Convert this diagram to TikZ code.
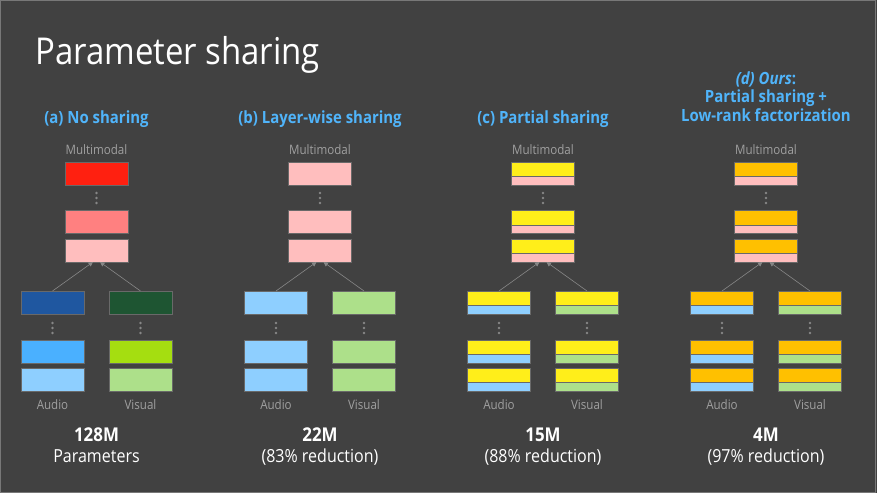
\documentclass[tikz,border=0pt]{standalone}
\usepackage{fontspec}
\setmainfont{Open Sans}[FakeStretch=0.89]
\usetikzlibrary{arrows.meta}
\definecolor{bg}{RGB}{65,65,65}
\definecolor{frame}{RGB}{120,120,120}
\definecolor{boxline}{RGB}{105,105,105}
\definecolor{arrowgray}{RGB}{135,135,135}
\definecolor{labelgray}{RGB}{160,160,160}
\definecolor{accent}{RGB}{80,180,250}
\definecolor{cRed}{RGB}{255,32,16}
\definecolor{cSalmon}{RGB}{255,128,128}
\definecolor{cPink}{RGB}{255,190,190}
\definecolor{cDarkBlue}{RGB}{31,87,160}
\definecolor{cDarkGreen}{RGB}{30,85,50}
\definecolor{cBlue}{RGB}{74,176,255}
\definecolor{cLime}{RGB}{165,222,16}
\definecolor{cLightBlue}{RGB}{142,207,255}
\definecolor{cLightGreen}{RGB}{173,224,138}
\definecolor{cYellow}{RGB}{255,238,26}
\definecolor{cAmber}{RGB}{255,192,0}
\tikzset{
  box/.style={draw=boxline, line width=0.8pt, minimum width=63pt, minimum height=23pt, inner sep=0pt, outer sep=0pt},
  fbox/.style={box, fill=#1},
  sbox/.style 2 args={box, fill=#1, path picture={
      \fill[#2] (path picture bounding box.south west) rectangle ([yshift=8.5pt]path picture bounding box.south east);
      \draw[boxline, line width=0.8pt] ([yshift=8.5pt]path picture bounding box.south west) -- ([yshift=8.5pt]path picture bounding box.south east);}},
  arr/.style={draw=arrowgray, line width=0.6pt, -{Triangle[length=4.5pt,width=4.5pt]}},
  dotmark/.style={fill=arrowgray},
  txt/.style={inner sep=0pt, anchor=base},
  small/.style={txt, text=labelgray, font=\fontsize{13}{15}\selectfont},
  head/.style={txt, text=accent, font=\fontsize{16.8}{19}\selectfont\bfseries},
  num/.style={txt, text=white, font=\fontsize{19}{22}\selectfont\bfseries},
  sub/.style={txt, text=white, font=\fontsize{18}{21}\selectfont},
}
\newcommand\colgrid[2]{%
  \node[small] (#1-mlab) at (#2,154) {Multimodal};
  \node[mmA] (#1-m1) at (#2,173.5) {};
  \node[mmB] (#1-m2) at (#2,222) {};
  \node[mmC] (#1-m3) at (#2,250.5) {};
  \node[auA] (#1-a1) at (#2-44,302.5) {};
  \node[auB] (#1-a2) at (#2-44,351.5) {};
  \node[auC] (#1-a3) at (#2-44,379.5) {};
  \node[viA] (#1-v1) at (#2+44,302.5) {};
  \node[viB] (#1-v2) at (#2+44,351.5) {};
  \node[viC] (#1-v3) at (#2+44,379.5) {};
  \node[small] (#1-alab) at (#2-44,409) {Audio};
  \node[small] (#1-vlab) at (#2+44,409) {Visual};
  \foreach \yy in {193,198,203} {\fill[dotmark] (#2,\yy) circle (1.3pt);}
  \foreach \yy in {323,328,333} {\fill[dotmark] (#2-44,\yy) circle (1.3pt); \fill[dotmark] (#2+44,\yy) circle (1.3pt);}
  \draw[arr] (#1-a1.north) -- ([xshift=-3.5pt]#1-m3.south);
  \draw[arr] (#1-v1.north) -- ([xshift=3.5pt]#1-m3.south);
}
\begin{document}
\begin{tikzpicture}[x=1pt, y=-1pt]
  \useasboundingbox (0,0) rectangle (877,493);
  \fill[bg] (0,0) rectangle (877,493);
  \draw[frame, line width=1.2pt] (0.6,0.6) rectangle (875.6,492.4);
  \node[txt, anchor=base west, text=white, font=\fontsize{37}{44}\selectfont] (title) at (35,64) {Parameter sharing};

  % (a) No sharing
  \node[head] (ha) at (96.5,123) {(a) No sharing};
  \begin{scope}[mmA/.style={fbox=cRed}, mmB/.style={fbox=cSalmon}, mmC/.style={fbox=cPink},
                auA/.style={fbox=cDarkBlue}, auB/.style={fbox=cBlue}, auC/.style={fbox=cLightBlue},
                viA/.style={fbox=cDarkGreen}, viB/.style={fbox=cLime}, viC/.style={fbox=cLightGreen}]
    \colgrid{a}{96.5}
  \end{scope}
  \node[num] (na) at (96.5,441) {128M};
  \node[sub] (sa) at (96.5,462) {Parameters};

  % (b) Layer-wise sharing
  \node[head] (hb) at (320,123) {(b) Layer-wise sharing};
  \begin{scope}[mmA/.style={fbox=cPink}, mmB/.style={fbox=cPink}, mmC/.style={fbox=cPink},
                auA/.style={fbox=cLightBlue}, auB/.style={fbox=cLightBlue}, auC/.style={fbox=cLightBlue},
                viA/.style={fbox=cLightGreen}, viB/.style={fbox=cLightGreen}, viC/.style={fbox=cLightGreen}]
    \colgrid{b}{320}
  \end{scope}
  \node[num] (nb) at (320,441) {22M};
  \node[sub] (sb) at (320,462) {(83\% reduction)};

  % (c) Partial sharing
  \node[head] (hc) at (543,123) {(c) Partial sharing};
  \begin{scope}[mmA/.style={sbox={cYellow}{cPink}}, mmB/.style={sbox={cYellow}{cPink}}, mmC/.style={sbox={cYellow}{cPink}},
                auA/.style={sbox={cYellow}{cLightBlue}}, auB/.style={sbox={cYellow}{cLightBlue}}, auC/.style={sbox={cYellow}{cLightBlue}},
                viA/.style={sbox={cYellow}{cLightGreen}}, viB/.style={sbox={cYellow}{cLightGreen}}, viC/.style={sbox={cYellow}{cLightGreen}}]
    \colgrid{c}{543}
  \end{scope}
  \node[num] (nc) at (543,441) {15M};
  \node[sub] (sc) at (543,462) {(88\% reduction)};

  % (d) Ours
  \node[head] (hd1) at (766,84) {{\itshape (d) Ours}:};
  \node[head] (hd2) at (766,102.5) {Partial sharing +};
  \node[head] (hd3) at (766,121) {Low-rank factorization};
  \begin{scope}[mmA/.style={sbox={cAmber}{cPink}}, mmB/.style={sbox={cAmber}{cPink}}, mmC/.style={sbox={cAmber}{cPink}},
                auA/.style={sbox={cAmber}{cLightBlue}}, auB/.style={sbox={cAmber}{cLightBlue}}, auC/.style={sbox={cAmber}{cLightBlue}},
                viA/.style={sbox={cAmber}{cLightGreen}}, viB/.style={sbox={cAmber}{cLightGreen}}, viC/.style={sbox={cAmber}{cLightGreen}}]
    \colgrid{d}{766}
  \end{scope}
  \node[num] (nd) at (766,441) {4M};
  \node[sub] (sd) at (766,462) {(97\% reduction)};
\end{tikzpicture}
\end{document}
